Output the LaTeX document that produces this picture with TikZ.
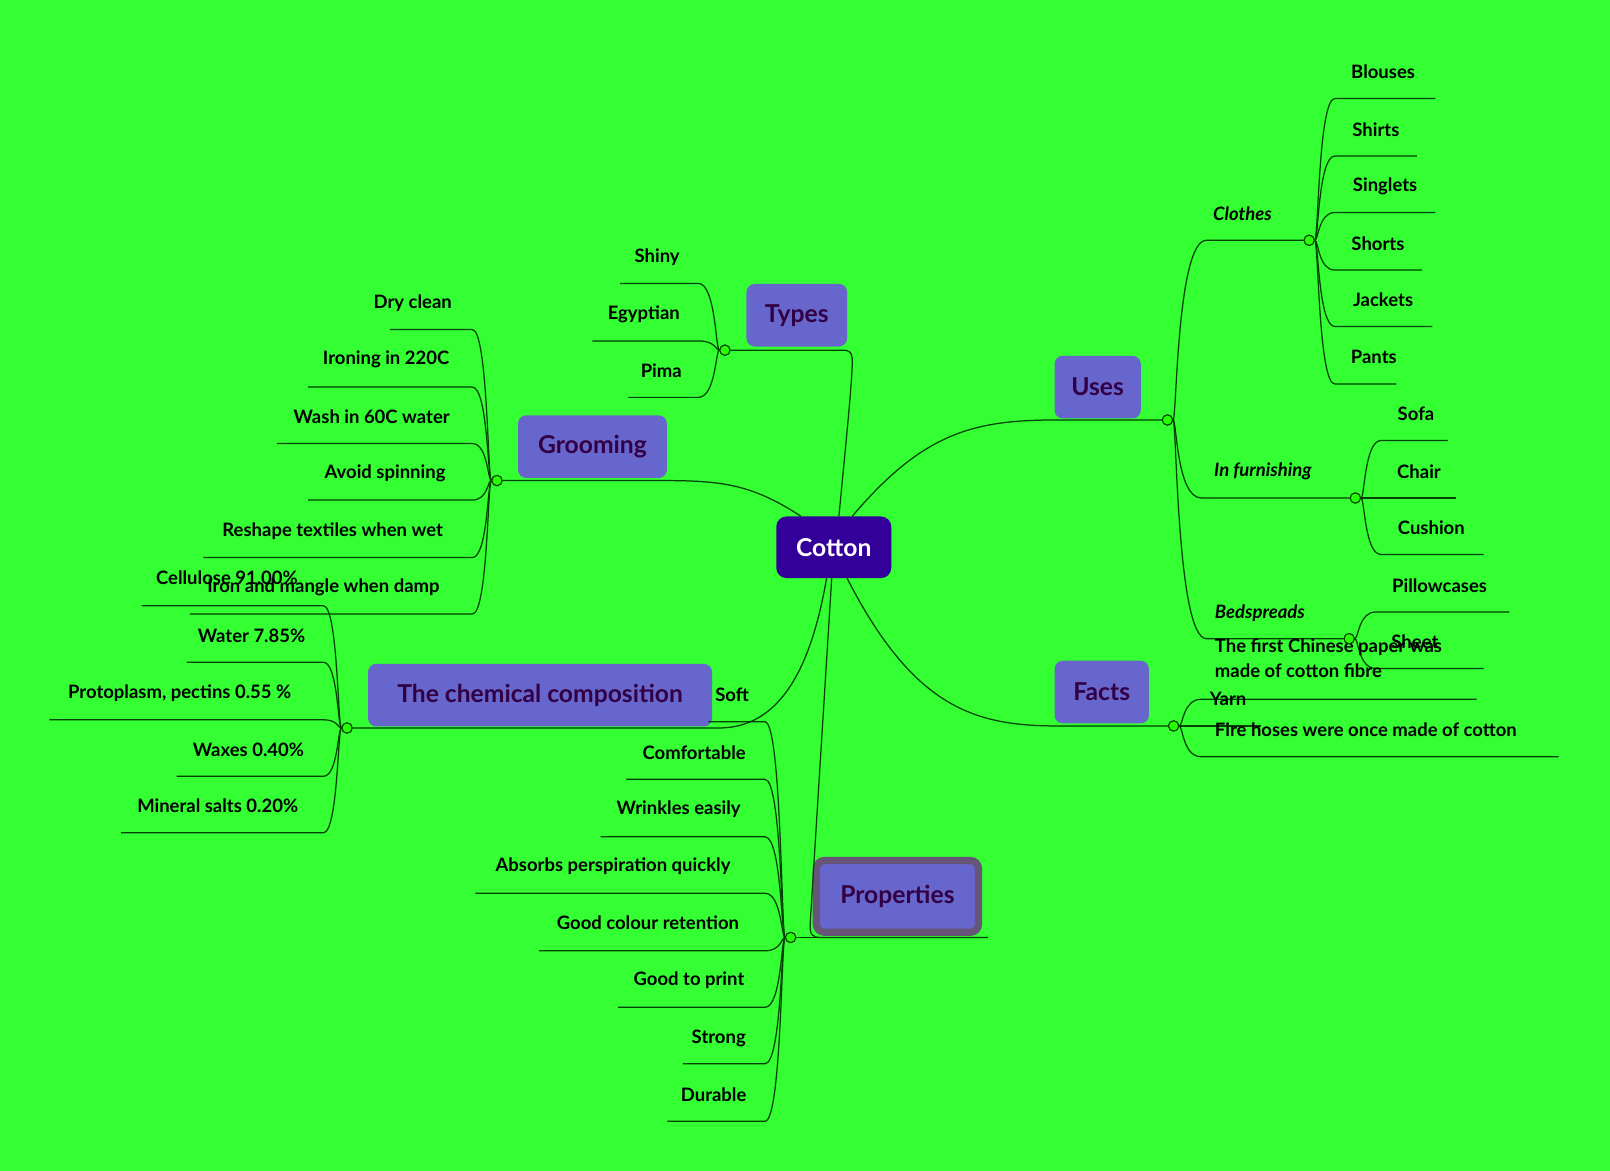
\documentclass[tikz,border=0pt]{standalone}
\usepackage{fontspec}
\setmainfont{Lato}
\usetikzlibrary{calc}
\begin{document}
\begin{tikzpicture}[x=1pt,y=-1pt,
  ln/.style={draw=black!75!green, line width=1.2pt},
  jn/.style={circle, draw=black!75!green, fill=green!80!lime, line width=1pt, inner sep=0pt, minimum size=10pt},
  leaf/.style={font=\fontsize{18}{24}\selectfont\bfseries, text=black, inner sep=0pt},
  sub/.style={font=\fontsize{18}{22}\selectfont\bfseries\itshape, text=black, inner sep=0pt},
  topic/.style={rounded corners=8pt, fill=mb, text=mt, font=\fontsize{24}{27}\selectfont\bfseries, inner sep=0pt}]
\definecolor{bg}{HTML}{33FF33}
\definecolor{mb}{HTML}{6666CC}
\definecolor{mt}{HTML}{330044}
\definecolor{cb}{HTML}{330099}
\definecolor{pb}{HTML}{665577}
\useasboundingbox[fill=bg] (0,0) rectangle (1568,1140);

% topic nodes
\node[topic, rounded corners=10pt, fill=cb, text=white, minimum width=112pt, minimum height=60pt] (cotton) at (812,533) {Cotton};
\node[topic, minimum width=98pt, minimum height=61pt] (types) at (776,307) {Types};
\node[topic, minimum width=145pt, minimum height=61pt] (groom) at (577,435) {Grooming};
\node[topic, minimum width=84pt, minimum height=61pt] (uses) at (1069,377) {Uses};
\node[topic, minimum width=92pt, minimum height=61pt] (facts) at (1073,674) {Facts};
\node[topic, minimum width=335pt, minimum height=61pt] (chem) at (526,677) {The chemical composition};
\node[topic, draw=pb, line width=7pt, minimum width=158pt, minimum height=70pt] (prop) at (874,873) {Properties};

% junctions
\node[jn] (jt) at (706,341) {};
\node[jn] (jg) at (484,468) {};
\node[jn] (ju) at (1137,409) {};
\node[jn] (jf) at (1143,707) {};
\node[jn] (jc) at (338,709) {};
\node[jn] (jp) at (770,913) {};
\node[jn] (jcl) at (1275,234) {};
\node[jn] (jfu) at (1320,485) {};
\node[jn] (jb) at (1314,622) {};

% main connectors
\draw[ln] ($(cotton.north)+(5,0)$) .. controls (825,420) and (830,370) .. (830,352) .. controls (830,343) and (828,341) .. (820,341) -- (jt);
\draw[ln] ($(cotton.north)+(-32,0)$) .. controls (730,470) and (700,468) .. (640,468) -- (jg);
\draw[ln] ($(cotton.north)+(18,0)$) .. controls (900,420) and (950,409) .. (1030,409) -- (ju);
\draw[ln] ($(cotton.south)+(13,0)$) .. controls (890,690) and (950,707) .. (1030,707) -- (jf);
\draw[ln] ($(cotton.south)+(-7,0)$) .. controls (790,650) and (760,709) .. (700,709) -- (jc);
\draw[ln] ($(cotton.south)+(-2,0)$) -- (789,900) .. controls (789,910) and (790,913) .. (800,913) -- (962,913);
\draw[ln] (jp) -- (800,913);

\newcommand{\lleaves}[3]{%
  \foreach \t/\cx/\ty/\yy/\lx [count=\i] in {#3} {
    \node[leaf] (#1\i) at (\cx,\ty) {\t};
    \draw[ln] (#1) .. controls ($(#1)+(-9,0)$) and ($(#1|-0,\yy)+(-9,0)$) .. (#2,\yy) -- (\lx,\yy);
  }}
\newcommand{\rleaves}[3]{%
  \foreach \t/\cx/\ty/\yy/\rx [count=\i] in {#3} {
    \node[leaf] (#1\i) at (\cx,\ty) {\t};
    \draw[ln] (#1) .. controls ($(#1)+(9,0)$) and ($(#1|-0,\yy)+(9,0)$) .. (#2,\yy) -- (\rx,\yy);
  }}

\lleaves{jt}{680}{Shiny/640/250/276/604, Egyptian/627/306/332/577, Pima/644/361/387/612}
\lleaves{jg}{460}{Dry clean/402/295/321/380, Ironing in 220C/376/350/377/300, Wash in 60C water/362/406/432/270, Avoid spinning/375/461/487/300, Reshape textiles when wet/324/517/543/198, Iron and mangle when damp/315/572/598/185}
\lleaves{jc}{315}{Cellulose 91.00\%/221/563/590/138, Water 7.85\%/245/619/645/182, {Protoplasm, pectins 0.55 \%}/175/675/701/48, Waxes 0.40\%/242/730/756/172, Mineral salts 0.20\%/212/785/811/118}
\lleaves{jp}{745}{Soft/713/677/703/690, Comfortable/676/733/759/610, Wrinkles easily/661/788/815/585, Absorbs perspiration quickly/597/844/870/463, Good colour retention/631/899/926/525, Good to print/671/955/981/602, Strong/700/1011/1036/665, Durable/695/1066/1092/650}

% uses sub branches
\node[sub] (clothes) at (1210,208) {Clothes};
\node[sub] (furn) at (1230,459) {In furnishing};
\node[sub] (bed) at (1227,597) {Bedspreads};
\draw[ln] (ju) .. controls (1146,409) and (1146,234) .. (1175,234) -- (jcl);
\draw[ln] (ju) .. controls (1146,409) and (1146,485) .. (1170,485) -- (jfu);
\draw[ln] (ju) .. controls (1146,409) and (1146,622) .. (1175,622) -- (jb);

\rleaves{jcl}{1300}{Blouses/1347/70/96/1398, Shirts/1340/126/152/1380, Singlets/1349/181/207/1398, Shorts/1342/237/263/1385, Jackets/1347/292/318/1395, Pants/1338/348/374/1360}
\rleaves{jfu}{1345}{Sofa/1379/403/429/1410, Chair/1382/459/485/1418, Cushion/1394/514/540/1445}
\rleaves{jb}{1340}{Pillowcases/1402/570/596/1470, Sheet/1378/625/651/1445}

% facts
\node[leaf, align=left, anchor=north west] (f1) at (1183,622) {The first Chinese paper was\\made of cotton fibre};
\draw[ln] (jf) .. controls (1152,707) and (1152,681) .. (1170,681) -- (1438,681);
\node[leaf] (f2) at (1196,681) {Yarn};
\draw[ln] (jf) -- (1228,707);
\node[leaf, anchor=west] (f3) at (1183,711) {Fire hoses were once made of cotton};
\draw[ln] (jf) .. controls (1152,707) and (1152,737) .. (1170,737) -- (1518,737);

\foreach \j in {jt,jg,ju,jf,jc,jp,jcl,jfu,jb} \node[jn] at (\j) {};
\end{tikzpicture}
\end{document}
